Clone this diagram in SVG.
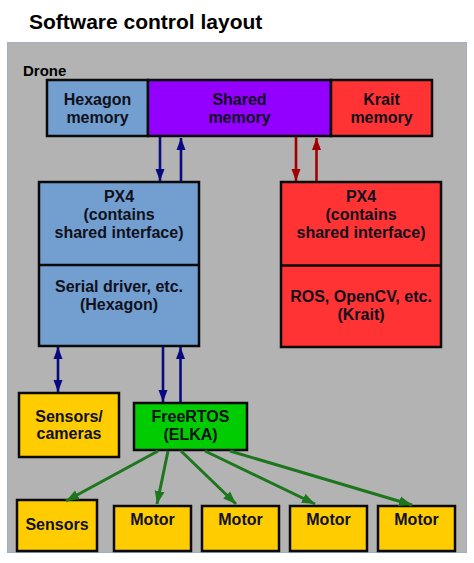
<svg xmlns="http://www.w3.org/2000/svg" width="474" height="563" viewBox="0 0 474 563">
<defs>
<style>
text{font-family:"Liberation Sans",Arial,sans-serif;font-weight:bold;fill:#10101c}
.t{font-size:16px;text-anchor:middle}
.box{stroke:#0a0a0a;stroke-width:2.5}
.blue{fill:#729fcf}.red{fill:#ff3333}.purple{fill:#9300ff}.yellow{fill:#ffcc00}.green{fill:#00cc00}
.ab{stroke:#0a0a80;stroke-width:2.6;fill:none}
.ar{stroke:#a00000;stroke-width:2.6;fill:none}
.ag{stroke:#1d761d;stroke-width:3;fill:none}
</style>
<marker id="mb" viewBox="0 0 12 10" refX="12" refY="5" markerWidth="12" markerHeight="10" markerUnits="userSpaceOnUse" orient="auto-start-reverse"><path d="M0,0.5 L12,5 L0,9.5 z" fill="#0a0a80"/></marker>
<marker id="mr" viewBox="0 0 12 10" refX="12" refY="5" markerWidth="12" markerHeight="10" markerUnits="userSpaceOnUse" orient="auto"><path d="M0,0.5 L12,5 L0,9.5 z" fill="#a00000"/></marker>
<marker id="mg" viewBox="0 0 13 11" refX="13" refY="5.5" markerWidth="13" markerHeight="11" markerUnits="userSpaceOnUse" orient="auto"><path d="M0,0.5 L13,5.5 L0,10.5 z" fill="#1d761d"/></marker>
</defs>
<rect width="474" height="563" fill="#ffffff"/>
<text x="29" y="29" style="font-size:21px;fill:#000">Software control layout</text>
<rect x="7.5" y="42.5" width="459" height="510" fill="#b3b3b3" stroke="#9fb0c6" stroke-width="1"/>
<text x="23" y="76" style="font-size:15px;fill:#000">Drone</text>

<g id="hexagon-memory"><rect class="box blue" x="47" y="80" width="101" height="56"/><text class="t" x="97.5" y="105">Hexagon</text><text class="t" x="97.5" y="123">memory</text></g>
<g id="shared-memory"><rect class="box purple" x="148" y="80" width="183" height="56"/><text class="t" x="239.5" y="105">Shared</text><text class="t" x="239.5" y="123">memory</text></g>
<g id="krait-memory"><rect class="box red" x="331" y="80" width="101" height="56"/><text class="t" x="381.5" y="105">Krait</text><text class="t" x="381.5" y="123">memory</text></g>

<g id="px4-hexagon"><rect class="box blue" x="39" y="182" width="160" height="164"/><line x1="39" y1="265" x2="199" y2="265" stroke="#0a0a0a" stroke-width="2.5"/>
<text class="t" x="119" y="202">PX4</text><text class="t" x="119" y="220">(contains</text><text class="t" x="119" y="238">shared interface)</text>
<text class="t" x="119" y="292">Serial driver, etc.</text><text class="t" x="119" y="310">(Hexagon)</text></g>

<g id="px4-krait"><rect class="box red" x="281" y="182" width="160" height="165"/><line x1="281" y1="265.5" x2="441" y2="265.5" stroke="#0a0a0a" stroke-width="2.5"/>
<text class="t" x="361" y="202">PX4</text><text class="t" x="361" y="220">(contains</text><text class="t" x="361" y="238">shared interface)</text>
<text class="t" x="361" y="302">ROS, OpenCV, etc.</text><text class="t" x="361" y="320">(Krait)</text></g>

<g id="sensors-cameras"><rect class="box yellow" x="19" y="393" width="100" height="64"/><text class="t" x="69" y="422">Sensors/</text><text class="t" x="69" y="439">cameras</text></g>
<g id="freertos"><rect class="box green" x="134" y="403" width="113" height="47"/><text class="t" x="190.5" y="422">FreeRTOS</text><text class="t" x="190.5" y="440">(ELKA)</text></g>

<g id="sensors"><rect class="box yellow" x="17" y="500" width="80" height="51"/><text class="t" x="57" y="530">Sensors</text></g>
<g id="motor1"><rect class="box yellow" x="114" y="506" width="77" height="45"/><text class="t" x="152.5" y="525">Motor</text></g>
<g id="motor2"><rect class="box yellow" x="202" y="506" width="77" height="45"/><text class="t" x="240.5" y="525">Motor</text></g>
<g id="motor3"><rect class="box yellow" x="290" y="506" width="77" height="45"/><text class="t" x="328.5" y="525">Motor</text></g>
<g id="motor4"><rect class="box yellow" x="378" y="506" width="77" height="45"/><text class="t" x="416.5" y="525">Motor</text></g>

<g id="connectors">
<line class="ab" x1="160" y1="137" x2="160" y2="181" marker-end="url(#mb)"/>
<line class="ab" x1="181" y1="181" x2="181" y2="138" marker-end="url(#mb)"/>
<line class="ar" x1="296" y1="137" x2="296" y2="181" marker-end="url(#mr)"/>
<line class="ar" x1="316.5" y1="181" x2="316.5" y2="138" marker-end="url(#mr)"/>
<line class="ab" x1="58" y1="347" x2="58" y2="392" marker-start="url(#mb)" marker-end="url(#mb)"/>
<line class="ab" x1="163" y1="347" x2="163" y2="402" marker-end="url(#mb)"/>
<line class="ab" x1="180.5" y1="402" x2="180.5" y2="347" marker-end="url(#mb)"/>
<line class="ag" x1="158" y1="451" x2="66" y2="501" marker-end="url(#mg)"/>
<line class="ag" x1="168" y1="451" x2="157" y2="504" marker-end="url(#mg)"/>
<line class="ag" x1="181" y1="451" x2="236" y2="504" marker-end="url(#mg)"/>
<line class="ag" x1="205" y1="451" x2="315" y2="504" marker-end="url(#mg)"/>
<line class="ag" x1="230" y1="451" x2="412" y2="505" marker-end="url(#mg)"/>
</g>
</svg>
